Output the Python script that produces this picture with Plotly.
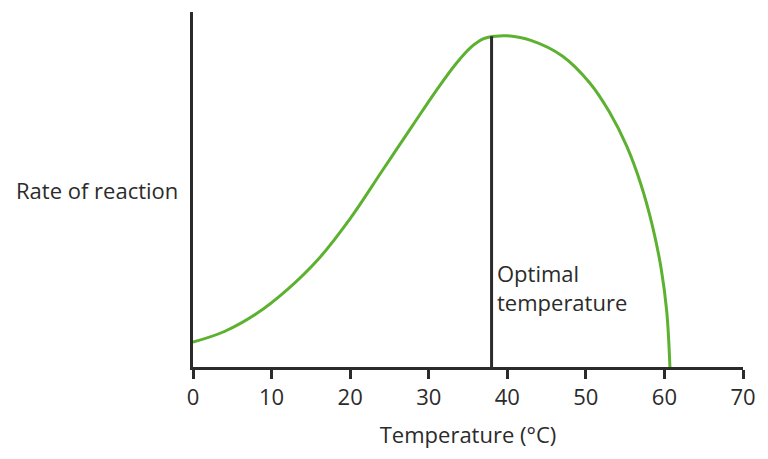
import plotly.graph_objects as go

# curve: temperature (°C) vs relative rate (0-100)
temp = [0, 4, 8, 12, 16, 20, 24, 28, 31, 33.5, 35.5, 37, 38.5, 40,
        43, 47, 50.5, 53, 55.2, 57, 58.5, 59.6, 60.3, 60.7]
rate = [7.0, 10.0, 14.9, 21.8, 30.5, 41.8, 55.0, 68.2, 78.0, 85.5, 90.3, 92.5, 93.2, 93.3,
        92.0, 87.6, 80.0, 71.8, 62.2, 51.5, 39.5, 27.5, 15.5, 0]

optimal_temp = 38
peak_rate = 93.2
x_ticks = [0, 10, 20, 30, 40, 50, 60, 70]

green = '#5db130'
ink = '#2b2b2b'
font = 'Open Sans'

fig = go.Figure()

fig.add_trace(go.Scatter(x=temp, y=rate, mode='lines',
                         line=dict(color=green, width=3, shape='spline', smoothing=1),
                         hoverinfo='skip'))

fig.add_trace(go.Scatter(x=[optimal_temp, optimal_temp], y=[0, peak_rate], mode='lines',
                         line=dict(color=ink, width=3), hoverinfo='skip'))

fig.add_annotation(x=optimal_temp, y=22.5, xref='x', yref='y',
                   text='Optimal<br>temperature', showarrow=False,
                   xanchor='left', yanchor='middle', align='left', xshift=3,
                   font=dict(family=font, size=22, color=ink))

fig.add_annotation(x=0, y=50, xref='x', yref='y',
                   text='Rate of reaction', showarrow=False,
                   xanchor='right', yanchor='middle', xshift=-13,
                   font=dict(family=font, size=22, color=ink))

# page body adds an 8px offset, margins account for it
fig.update_layout(
    width=768, height=459,
    margin=dict(l=185, r=33, t=4, b=100),
    plot_bgcolor='white', paper_bgcolor='white',
    showlegend=False,
    font=dict(family=font, size=22, color=ink),
    xaxis=dict(range=[0, 70], tickvals=x_ticks, showgrid=False, zeroline=False,
               showline=True, linecolor=ink, linewidth=3,
               ticks='outside', ticklen=9, tickwidth=3, tickcolor=ink,
               tickfont=dict(family=font, size=22, color=ink),
               title=dict(text='Temperature (°C)', standoff=18,
                          font=dict(family=font, size=22, color=ink))),
    yaxis=dict(range=[0, 100], showgrid=False, zeroline=False,
               showline=True, linecolor=ink, linewidth=3,
               showticklabels=False, ticks=''),
)

fig.write_html('out.html')
